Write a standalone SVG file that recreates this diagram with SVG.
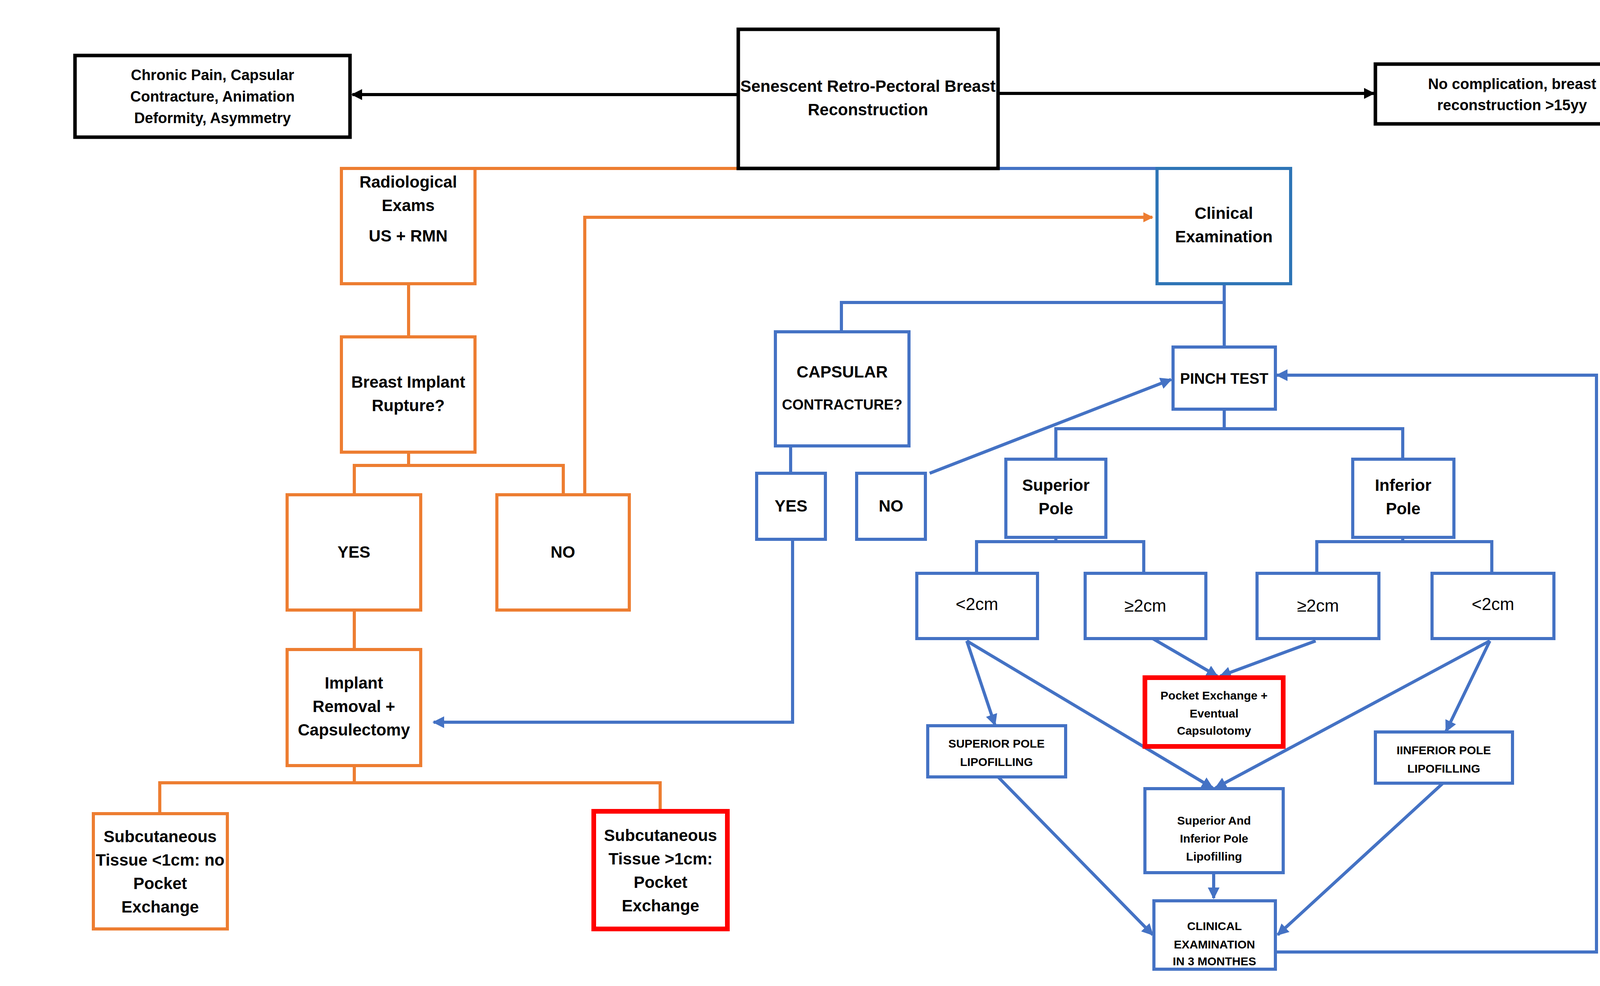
<svg xmlns="http://www.w3.org/2000/svg" width="4342" height="2523" viewBox="0 0 4342 2523">
<defs>
<marker id="ab" viewBox="0 0 10 10" refX="9" refY="5" markerWidth="30" markerHeight="30" orient="auto" markerUnits="userSpaceOnUse"><path d="M0,0 L10,5 L0,10 z" fill="#4472C4"/></marker>
<marker id="ao" viewBox="0 0 10 10" refX="9" refY="5" markerWidth="26" markerHeight="26" orient="auto" markerUnits="userSpaceOnUse"><path d="M0,0 L10,5 L0,10 z" fill="#ED7D31"/></marker>
<marker id="akk" viewBox="0 0 10 10" refX="9" refY="5" markerWidth="28" markerHeight="28" orient="auto" markerUnits="userSpaceOnUse"><path d="M0,0 L10,5 L0,10 z" fill="#000"/></marker>
</defs>
<style>
rect{fill:#fff}
.k{stroke:#000;stroke-width:9}
.o{stroke:#ED7D31;stroke-width:8}
.b{stroke:#4472C4;stroke-width:8}
.c{stroke:#2E75B6;stroke-width:8}
.r{stroke:#FF0000;stroke-width:12}
text{font-family:"Liberation Sans",Arial,sans-serif;font-weight:bold;text-anchor:middle;fill:#000}
.t1{font-size:42px}.t2{font-size:38px}.t3{font-size:30px}.t4{font-size:44px;font-weight:normal}
</style>
<rect width="4342" height="2523" style="fill:#fff"/>
<g id="conn" fill="none">
<line x1="1890" y1="242" x2="902" y2="242" stroke="#000" stroke-width="8" marker-end="url(#akk)"/>
<line x1="2555" y1="239" x2="3517" y2="239" stroke="#000" stroke-width="8" marker-end="url(#akk)"/>
<polyline points="1890,431 1216,431" stroke="#ED7D31" stroke-width="8"/>
<line x1="1046" y1="726" x2="1046" y2="862" stroke="#ED7D31" stroke-width="8"/>
<polyline points="1046,1157 1046,1191 907,1191 907,1266" stroke="#ED7D31" stroke-width="8"/>
<polyline points="1046,1191 1442,1191 1442,1266" stroke="#ED7D31" stroke-width="8"/>
<polyline points="1497,1266 1497,556 2950,556" stroke="#ED7D31" stroke-width="8" marker-end="url(#ao)"/>
<line x1="907" y1="1561" x2="907" y2="1662" stroke="#ED7D31" stroke-width="8"/>
<polyline points="907,1959 907,2003 409,2003 409,2082" stroke="#ED7D31" stroke-width="8"/>
<polyline points="907,2003 1690,2003 1690,2076" stroke="#ED7D31" stroke-width="8"/>
<line x1="2555" y1="431" x2="2962" y2="431" stroke="#4472C4" stroke-width="8"/>
<polyline points="3134,726 3134,774 2154,774 2154,849" stroke="#4472C4" stroke-width="8"/>
<line x1="3134" y1="774" x2="3134" y2="888" stroke="#4472C4" stroke-width="8"/>
<line x1="2024" y1="1141" x2="2024" y2="1211" stroke="#4472C4" stroke-width="8"/>
<polyline points="2029,1380 2029,1848 1110,1848" stroke="#4472C4" stroke-width="8" marker-end="url(#ab)"/>
<line x1="2380" y1="1211" x2="2998" y2="971" stroke="#4472C4" stroke-width="8" marker-end="url(#ab)"/>
<polyline points="3134,1047 3134,1097 2703,1097 2703,1175" stroke="#4472C4" stroke-width="8"/>
<polyline points="3134,1097 3591,1097 3591,1175" stroke="#4472C4" stroke-width="8"/>
<polyline points="2500,1467 2500,1386 2928,1386 2928,1467" stroke="#4472C4" stroke-width="8"/>
<line x1="2703" y1="1375" x2="2703" y2="1386" stroke="#4472C4" stroke-width="8"/>
<polyline points="3371,1467 3371,1386 3819,1386 3819,1467" stroke="#4472C4" stroke-width="8"/>
<line x1="3591" y1="1375" x2="3591" y2="1386" stroke="#4472C4" stroke-width="8"/>
<line x1="2475" y1="1640" x2="2547" y2="1855" stroke="#4472C4" stroke-width="8" marker-end="url(#ab)"/>
<line x1="2475" y1="1640" x2="3104" y2="2016" stroke="#4472C4" stroke-width="8" marker-end="url(#ab)"/>
<line x1="2951" y1="1634" x2="3116" y2="1730" stroke="#4472C4" stroke-width="8" marker-end="url(#ab)"/>
<line x1="3368" y1="1640" x2="3124" y2="1730" stroke="#4472C4" stroke-width="8" marker-end="url(#ab)"/>
<line x1="3814" y1="1640" x2="3112" y2="2016" stroke="#4472C4" stroke-width="8" marker-end="url(#ab)"/>
<line x1="3814" y1="1640" x2="3702" y2="1871" stroke="#4472C4" stroke-width="8" marker-end="url(#ab)"/>
<line x1="2555" y1="1988" x2="2951" y2="2392" stroke="#4472C4" stroke-width="8" marker-end="url(#ab)"/>
<line x1="3694" y1="2004" x2="3271" y2="2392" stroke="#4472C4" stroke-width="8" marker-end="url(#ab)"/>
<line x1="3107" y1="2233" x2="3107" y2="2298" stroke="#4472C4" stroke-width="8" marker-end="url(#ab)"/>
<polyline points="3265,2436 4087,2436 4087,960 3269,960" stroke="#4472C4" stroke-width="8" marker-end="url(#ab)"/>
</g>
<g id="top"><rect class="k" x="1890" y="75" width="665" height="356"/><text class="t1" x="2222" y="235">Senescent Retro-Pectoral Breast</text><text class="t1" x="2222" y="295">Reconstruction</text></g>
<g id="comp"><rect class="k" x="192" y="142" width="704" height="209"/><text class="t2" x="544" y="205">Chronic Pain, Capsular</text><text class="t2" x="544" y="260">Contracture, Animation</text><text class="t2" x="544" y="315">Deformity, Asymmetry</text></g>
<g id="nocomp"><rect class="k" x="3521" y="164" width="701" height="153"/><text class="t2" x="3871" y="228">No complication, breast</text><text class="t2" x="3871" y="282">reconstruction &gt;15yy</text></g>
<g id="radio"><rect class="o" x="874" y="431" width="342" height="295"/><text class="t1" x="1045" y="480">Radiological</text><text class="t1" x="1045" y="540">Exams</text><text class="t1" x="1045" y="618">US + RMN</text></g>
<g id="rupture"><rect class="o" x="874" y="862" width="342" height="295"/><text class="t1" x="1045" y="992">Breast Implant</text><text class="t1" x="1045" y="1052">Rupture?</text></g>
<g id="yes1"><rect class="o" x="735" y="1266" width="342" height="295"/><text class="t1" x="906" y="1427">YES</text></g>
<g id="no1"><rect class="o" x="1272" y="1266" width="339" height="295"/><text class="t1" x="1441" y="1427">NO</text></g>
<g id="removal"><rect class="o" x="735" y="1662" width="342" height="297"/><text class="t1" x="906" y="1762">Implant</text><text class="t1" x="906" y="1822">Removal +</text><text class="t1" x="906" y="1882">Capsulectomy</text></g>
<g id="sub1"><rect class="o" x="239" y="2082" width="343" height="295"/><text class="t1" x="410" y="2155">Subcutaneous</text><text class="t1" x="410" y="2215" font-size="40">Tissue &lt;1cm: no</text><text class="t1" x="410" y="2275">Pocket</text><text class="t1" x="410" y="2335">Exchange</text></g>
<g id="sub2"><rect class="r" x="1520" y="2076" width="342" height="301"/><text class="t1" x="1691" y="2152">Subcutaneous</text><text class="t1" x="1691" y="2212">Tissue &gt;1cm:</text><text class="t1" x="1691" y="2272">Pocket</text><text class="t1" x="1691" y="2332">Exchange</text></g>
<g id="clin"><rect class="c" x="2962" y="431" width="342" height="295"/><text class="t1" x="3133" y="560">Clinical</text><text class="t1" x="3133" y="620">Examination</text></g>
<g id="caps"><rect class="b" x="1985" y="849" width="342" height="292"/><text class="t1" x="2156" y="966">CAPSULAR</text><text class="t1" x="2156" y="1048" style="font-size:37px">CONTRACTURE?</text></g>
<g id="yes2"><rect class="b" x="1937" y="1211" width="176" height="169"/><text class="t1" x="2025" y="1309">YES</text></g>
<g id="no2"><rect class="b" x="2193" y="1211" width="176" height="169"/><text class="t1" x="2281" y="1309">NO</text></g>
<g id="pinch"><rect class="b" x="3003" y="888" width="262" height="159"/><text class="t1" x="3134" y="982" style="font-size:38px">PINCH TEST</text></g>
<g id="sup"><rect class="b" x="2575" y="1175" width="256" height="200"/><text class="t1" x="2703" y="1256">Superior</text><text class="t1" x="2703" y="1316">Pole</text></g>
<g id="inf"><rect class="b" x="3463" y="1175" width="259" height="200"/><text class="t1" x="3592" y="1256">Inferior</text><text class="t1" x="3592" y="1316">Pole</text></g>
<g id="s1"><rect class="b" x="2347" y="1467" width="309" height="167"/><text class="t4" x="2501" y="1561">&lt;2cm</text></g>
<g id="s2"><rect class="b" x="2778" y="1467" width="309" height="167"/><text class="t4" x="2932" y="1565">≥2cm</text></g>
<g id="i2"><rect class="b" x="3218" y="1467" width="312" height="167"/><text class="t4" x="3374" y="1565">≥2cm</text></g>
<g id="i1"><rect class="b" x="3666" y="1467" width="312" height="167"/><text class="t4" x="3822" y="1561">&lt;2cm</text></g>
<g id="pocket"><rect class="r" x="2931" y="1734" width="354" height="176"/><text class="t3" x="3108" y="1790">Pocket Exchange +</text><text class="t3" x="3108" y="1836">Eventual</text><text class="t3" x="3108" y="1880">Capsulotomy</text></g>
<g id="suplipo"><rect class="b" x="2375" y="1857" width="353" height="131"/><text class="t3" x="2551" y="1913">SUPERIOR POLE</text><text class="t3" x="2551" y="1960">LIPOFILLING</text></g>
<g id="inflipo"><rect class="b" x="3521" y="1873" width="351" height="131"/><text class="t3" x="3696" y="1930">IINFERIOR POLE</text><text class="t3" x="3696" y="1977">LIPOFILLING</text></g>
<g id="both"><rect class="b" x="2931" y="2018" width="354" height="215"/><text class="t3" x="3108" y="2110">Superior And</text><text class="t3" x="3108" y="2156">Inferior Pole</text><text class="t3" x="3108" y="2202">Lipofilling</text></g>
<g id="clin3"><rect class="b" x="2954" y="2305" width="311" height="175"/><text class="t3" x="3109" y="2380">CLINICAL</text><text class="t3" x="3109" y="2427">EXAMINATION</text><text class="t3" x="3109" y="2470">IN 3 MONTHES</text></g>
</svg>
